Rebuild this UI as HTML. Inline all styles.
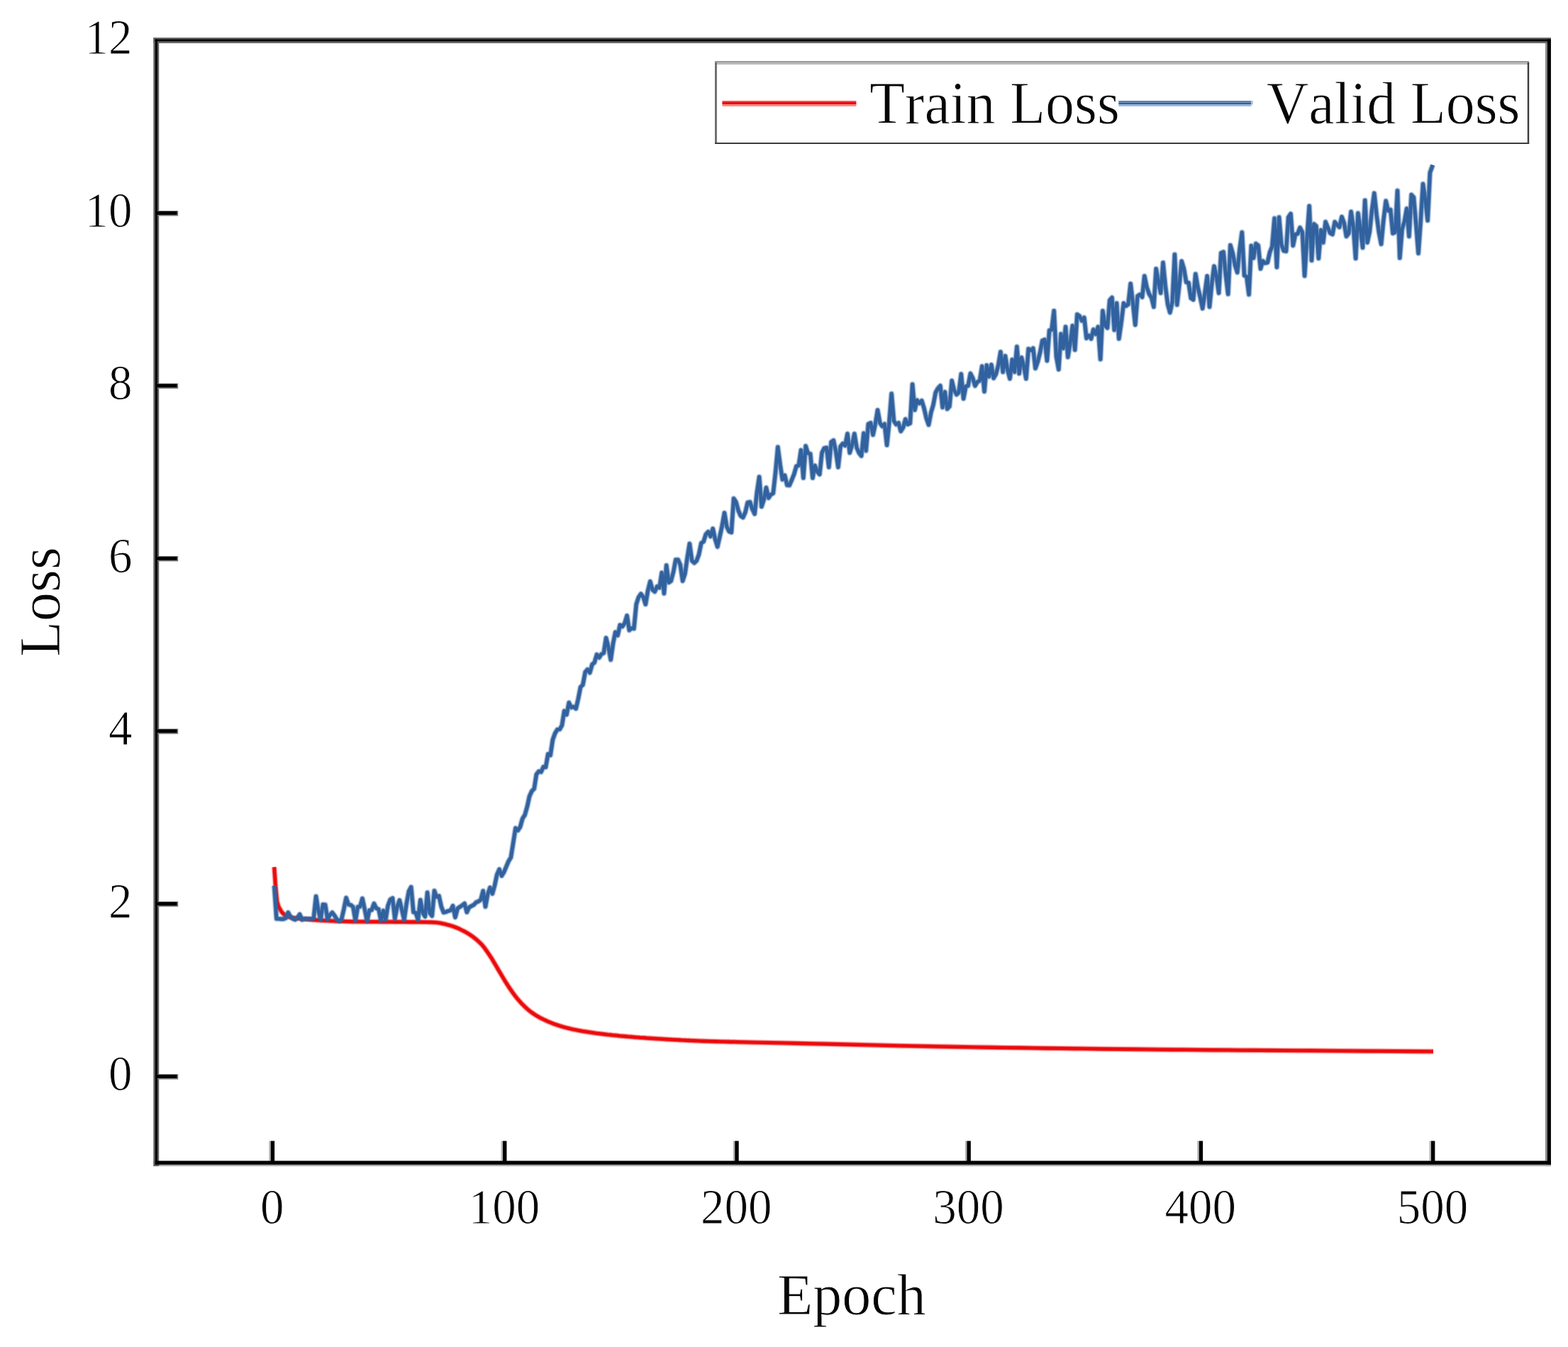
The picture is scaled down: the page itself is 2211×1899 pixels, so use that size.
<!DOCTYPE html>
<html lang="en">
<head>
<meta charset="utf-8">
<title>Train Loss and Valid Loss vs Epoch</title>
<style>
html,body{margin:0;padding:0;background:#fff;}
body{width:2211px;height:1899px;overflow:hidden;}
svg{display:block;}
text{font-family:"Liberation Serif",serif;fill:#050505;font-kerning:none;stroke:#ffffff;stroke-width:0.9px;}
.tk{font-size:67px;}
.lb{font-size:82px;}
</style>
</head>
<body>
<svg width="2211" height="1899" viewBox="0 0 2211 1899">
<rect x="0" y="0" width="2211" height="1899" fill="#ffffff"/>
<g id="axes" shape-rendering="geometricPrecision">
<rect x="2179.0" y="53.0" width="7.9" height="1591.1" fill="#8c8c8c"/>
<rect x="216.4" y="1636.6" width="1970.5" height="7.5" fill="#a8a8a8"/>
<rect x="216.4" y="53.0" width="7.8" height="1591.1" fill="#5c5c5c"/>
<rect x="216.4" y="53.0" width="1970.5" height="7.9" fill="#646464"/>
<rect x="221.0" y="1514.3" width="30.2" height="7.4" fill="#7a7a7a"/>
<rect x="221.0" y="1270.9" width="30.2" height="7.4" fill="#7a7a7a"/>
<rect x="221.0" y="1027.4" width="30.2" height="7.4" fill="#7a7a7a"/>
<rect x="221.0" y="784.0" width="30.2" height="7.4" fill="#7a7a7a"/>
<rect x="221.0" y="540.5" width="30.2" height="7.4" fill="#7a7a7a"/>
<rect x="221.0" y="297.1" width="30.2" height="7.4" fill="#7a7a7a"/>
<rect x="379.3" y="1608.4" width="7.8" height="31.6" fill="#b4b4b4"/>
<rect x="706.6" y="1608.4" width="7.8" height="31.6" fill="#b4b4b4"/>
<rect x="1033.8" y="1608.4" width="7.8" height="31.6" fill="#b4b4b4"/>
<rect x="1361.0" y="1608.4" width="7.8" height="31.6" fill="#b4b4b4"/>
<rect x="1688.3" y="1608.4" width="7.8" height="31.6" fill="#b4b4b4"/>
<rect x="2015.5" y="1608.4" width="7.8" height="31.6" fill="#b4b4b4"/>
<rect x="218.9" y="55.4" width="3.0" height="1586.3" fill="#000000"/>
<rect x="218.4" y="55.4" width="1968.5" height="2.8" fill="#000000"/>
<rect x="2181.9" y="55.4" width="5.0" height="1586.4" fill="#000000"/>
<rect x="218.8" y="1636.6" width="1968.1" height="5.2" fill="#000000"/>
<rect x="221.0" y="1515.1" width="28.6" height="4.9" fill="#000000"/>
<rect x="221.0" y="1271.7" width="28.6" height="4.9" fill="#000000"/>
<rect x="221.0" y="1028.2" width="28.6" height="4.9" fill="#000000"/>
<rect x="221.0" y="784.8" width="28.6" height="4.9" fill="#000000"/>
<rect x="221.0" y="541.3" width="28.6" height="4.9" fill="#000000"/>
<rect x="221.0" y="297.9" width="28.6" height="4.9" fill="#000000"/>
<rect x="381.8" y="1608.6" width="5.3" height="31.4" fill="#000000"/>
<rect x="709.1" y="1608.6" width="5.3" height="31.4" fill="#000000"/>
<rect x="1036.3" y="1608.6" width="5.3" height="31.4" fill="#000000"/>
<rect x="1363.5" y="1608.6" width="5.3" height="31.4" fill="#000000"/>
<rect x="1690.8" y="1608.6" width="5.3" height="31.4" fill="#000000"/>
<rect x="2018.0" y="1608.6" width="5.3" height="31.4" fill="#000000"/>
</g>
<g id="curves">
<polyline fill="none" stroke="#ec0a0c" stroke-width="8.2" stroke-opacity="0.25" stroke-linejoin="round" stroke-linecap="butt" points="
386.7,1222.5 388.4,1247.6 390.6,1270.5 393.0,1278.6 397.4,1286.0 401.7,1290.3 405.0,1291.8 408.3,1292.8 411.5,1293.5 414.8,1294.1 418.1,1294.5 421.4,1294.9
424.6,1295.3 427.9,1295.6 431.2,1295.9 434.4,1296.2 437.7,1296.5 441.0,1296.8 444.3,1297.0 447.5,1297.2 450.8,1297.4 454.1,1297.6 457.4,1297.8 460.6,1297.9
463.9,1298.1 467.2,1298.3 470.4,1298.4 473.7,1298.6 477.0,1298.7 480.3,1298.8 483.5,1298.9 486.8,1299.0 490.1,1299.1 493.4,1299.2 496.6,1299.3 499.9,1299.3
503.2,1299.3 506.4,1299.4 509.7,1299.4 513.0,1299.4 516.3,1299.4 519.5,1299.5 522.8,1299.5 526.1,1299.5 529.4,1299.5 532.6,1299.5 535.9,1299.6 539.2,1299.6
542.4,1299.6 545.7,1299.6 549.0,1299.6 552.3,1299.6 555.5,1299.7 558.8,1299.7 562.1,1299.7 565.4,1299.7 568.6,1299.7 571.9,1299.7 575.2,1299.8 578.4,1299.8
581.7,1299.8 585.0,1299.8 588.3,1299.9 591.5,1299.9 594.8,1299.9 598.1,1300.0 601.4,1300.0 604.6,1300.1 607.9,1300.2 611.2,1300.3 614.4,1300.5 617.7,1300.9
621.0,1301.4 624.3,1302.1 627.5,1302.8 630.8,1303.7 634.1,1304.5 637.4,1305.5 640.6,1306.6 643.9,1307.9 647.2,1309.3 650.4,1310.9 653.7,1312.5 657.0,1314.3
660.2,1316.2 663.5,1318.3 666.8,1320.6 670.1,1323.2 673.3,1325.9 676.6,1329.0 679.9,1332.3 683.2,1336.4 686.4,1340.9 689.7,1345.7 693.0,1350.7 696.2,1356.1
699.5,1361.7 702.8,1367.4 706.1,1372.8 709.3,1378.3 712.6,1383.8 715.9,1389.0 719.2,1393.9 722.4,1398.6 725.7,1403.1 729.0,1407.3 732.2,1411.1 735.5,1414.7
738.8,1418.0 742.1,1421.2 745.3,1424.0 748.6,1426.6 751.9,1428.9 755.2,1431.1 758.4,1433.0 761.7,1434.9 765.0,1436.5 768.2,1438.1 771.5,1439.6 774.8,1441.0
778.1,1442.3 781.3,1443.6 784.6,1444.7 787.9,1445.8 791.1,1446.8 794.4,1447.8 797.7,1448.7 801.0,1449.5 804.2,1450.3 807.5,1451.1 810.8,1451.7 814.1,1452.4
817.3,1453.0 820.6,1453.6 823.9,1454.1 827.1,1454.6 830.4,1455.1 833.7,1455.6 837.0,1456.1 840.2,1456.6 843.5,1457.0 846.8,1457.4 850.1,1457.8 853.3,1458.2
856.6,1458.6 859.9,1458.9 863.1,1459.3 866.4,1459.6 869.7,1459.9 873.0,1460.3 876.2,1460.6 879.5,1460.9 882.8,1461.2 886.1,1461.5 889.3,1461.7 892.6,1462.0
895.9,1462.3 899.1,1462.5 902.4,1462.8 905.7,1463.0 909.0,1463.2 912.2,1463.5 915.5,1463.7 918.8,1463.9 922.0,1464.1 925.3,1464.3 928.6,1464.5 931.9,1464.7
935.1,1464.9 938.4,1465.1 941.7,1465.3 945.0,1465.5 948.2,1465.7 951.5,1465.8 954.8,1466.0 958.0,1466.2 961.3,1466.4 964.6,1466.5 967.9,1466.7 971.1,1466.8
974.4,1467.0 977.7,1467.1 981.0,1467.3 984.2,1467.4 987.5,1467.6 990.8,1467.7 994.0,1467.8 997.3,1467.9 1000.6,1468.0 1003.9,1468.1 1007.1,1468.2 1010.4,1468.3
1013.7,1468.4 1017.0,1468.5 1020.2,1468.5 1023.5,1468.6 1026.8,1468.7 1030.0,1468.8 1033.3,1468.8 1036.6,1468.9 1039.9,1469.0 1043.1,1469.1 1045.0,1469.1 1064.6,1469.6
1084.2,1470.0 1103.8,1470.4 1123.4,1470.8 1143.0,1471.3 1162.6,1471.7 1182.2,1472.2 1201.8,1472.7 1221.4,1473.1 1241.0,1473.6 1260.6,1474.1 1280.2,1474.5 1299.8,1474.9
1319.4,1475.3 1339.0,1475.7 1358.6,1476.0 1378.2,1476.4 1397.8,1476.7 1417.4,1477.0 1437.0,1477.2 1456.6,1477.5 1476.2,1477.8 1495.8,1478.0 1515.4,1478.3 1535.0,1478.5
1554.6,1478.8 1574.2,1479.0 1593.8,1479.2 1613.4,1479.4 1633.0,1479.6 1652.6,1479.8 1672.2,1479.9 1691.8,1480.1 1711.4,1480.3 1731.0,1480.4 1750.6,1480.6 1770.2,1480.7
1789.8,1480.8 1809.4,1481.0 1829.0,1481.1 1848.6,1481.2 1868.2,1481.4 1887.8,1481.5 1907.4,1481.6 1927.0,1481.8 1946.6,1481.9 1966.2,1482.0 1985.8,1482.2 2005.4,1482.3
2021.0,1482.4"/>
<polyline fill="none" stroke="#ec0a0c" stroke-width="6.2" stroke-opacity="0.5" stroke-linejoin="round" stroke-linecap="butt" points="
386.7,1222.5 388.4,1247.6 390.6,1270.5 393.0,1278.6 397.4,1286.0 401.7,1290.3 405.0,1291.8 408.3,1292.8 411.5,1293.5 414.8,1294.1 418.1,1294.5 421.4,1294.9
424.6,1295.3 427.9,1295.6 431.2,1295.9 434.4,1296.2 437.7,1296.5 441.0,1296.8 444.3,1297.0 447.5,1297.2 450.8,1297.4 454.1,1297.6 457.4,1297.8 460.6,1297.9
463.9,1298.1 467.2,1298.3 470.4,1298.4 473.7,1298.6 477.0,1298.7 480.3,1298.8 483.5,1298.9 486.8,1299.0 490.1,1299.1 493.4,1299.2 496.6,1299.3 499.9,1299.3
503.2,1299.3 506.4,1299.4 509.7,1299.4 513.0,1299.4 516.3,1299.4 519.5,1299.5 522.8,1299.5 526.1,1299.5 529.4,1299.5 532.6,1299.5 535.9,1299.6 539.2,1299.6
542.4,1299.6 545.7,1299.6 549.0,1299.6 552.3,1299.6 555.5,1299.7 558.8,1299.7 562.1,1299.7 565.4,1299.7 568.6,1299.7 571.9,1299.7 575.2,1299.8 578.4,1299.8
581.7,1299.8 585.0,1299.8 588.3,1299.9 591.5,1299.9 594.8,1299.9 598.1,1300.0 601.4,1300.0 604.6,1300.1 607.9,1300.2 611.2,1300.3 614.4,1300.5 617.7,1300.9
621.0,1301.4 624.3,1302.1 627.5,1302.8 630.8,1303.7 634.1,1304.5 637.4,1305.5 640.6,1306.6 643.9,1307.9 647.2,1309.3 650.4,1310.9 653.7,1312.5 657.0,1314.3
660.2,1316.2 663.5,1318.3 666.8,1320.6 670.1,1323.2 673.3,1325.9 676.6,1329.0 679.9,1332.3 683.2,1336.4 686.4,1340.9 689.7,1345.7 693.0,1350.7 696.2,1356.1
699.5,1361.7 702.8,1367.4 706.1,1372.8 709.3,1378.3 712.6,1383.8 715.9,1389.0 719.2,1393.9 722.4,1398.6 725.7,1403.1 729.0,1407.3 732.2,1411.1 735.5,1414.7
738.8,1418.0 742.1,1421.2 745.3,1424.0 748.6,1426.6 751.9,1428.9 755.2,1431.1 758.4,1433.0 761.7,1434.9 765.0,1436.5 768.2,1438.1 771.5,1439.6 774.8,1441.0
778.1,1442.3 781.3,1443.6 784.6,1444.7 787.9,1445.8 791.1,1446.8 794.4,1447.8 797.7,1448.7 801.0,1449.5 804.2,1450.3 807.5,1451.1 810.8,1451.7 814.1,1452.4
817.3,1453.0 820.6,1453.6 823.9,1454.1 827.1,1454.6 830.4,1455.1 833.7,1455.6 837.0,1456.1 840.2,1456.6 843.5,1457.0 846.8,1457.4 850.1,1457.8 853.3,1458.2
856.6,1458.6 859.9,1458.9 863.1,1459.3 866.4,1459.6 869.7,1459.9 873.0,1460.3 876.2,1460.6 879.5,1460.9 882.8,1461.2 886.1,1461.5 889.3,1461.7 892.6,1462.0
895.9,1462.3 899.1,1462.5 902.4,1462.8 905.7,1463.0 909.0,1463.2 912.2,1463.5 915.5,1463.7 918.8,1463.9 922.0,1464.1 925.3,1464.3 928.6,1464.5 931.9,1464.7
935.1,1464.9 938.4,1465.1 941.7,1465.3 945.0,1465.5 948.2,1465.7 951.5,1465.8 954.8,1466.0 958.0,1466.2 961.3,1466.4 964.6,1466.5 967.9,1466.7 971.1,1466.8
974.4,1467.0 977.7,1467.1 981.0,1467.3 984.2,1467.4 987.5,1467.6 990.8,1467.7 994.0,1467.8 997.3,1467.9 1000.6,1468.0 1003.9,1468.1 1007.1,1468.2 1010.4,1468.3
1013.7,1468.4 1017.0,1468.5 1020.2,1468.5 1023.5,1468.6 1026.8,1468.7 1030.0,1468.8 1033.3,1468.8 1036.6,1468.9 1039.9,1469.0 1043.1,1469.1 1045.0,1469.1 1064.6,1469.6
1084.2,1470.0 1103.8,1470.4 1123.4,1470.8 1143.0,1471.3 1162.6,1471.7 1182.2,1472.2 1201.8,1472.7 1221.4,1473.1 1241.0,1473.6 1260.6,1474.1 1280.2,1474.5 1299.8,1474.9
1319.4,1475.3 1339.0,1475.7 1358.6,1476.0 1378.2,1476.4 1397.8,1476.7 1417.4,1477.0 1437.0,1477.2 1456.6,1477.5 1476.2,1477.8 1495.8,1478.0 1515.4,1478.3 1535.0,1478.5
1554.6,1478.8 1574.2,1479.0 1593.8,1479.2 1613.4,1479.4 1633.0,1479.6 1652.6,1479.8 1672.2,1479.9 1691.8,1480.1 1711.4,1480.3 1731.0,1480.4 1750.6,1480.6 1770.2,1480.7
1789.8,1480.8 1809.4,1481.0 1829.0,1481.1 1848.6,1481.2 1868.2,1481.4 1887.8,1481.5 1907.4,1481.6 1927.0,1481.8 1946.6,1481.9 1966.2,1482.0 1985.8,1482.2 2005.4,1482.3
2021.0,1482.4"/>
<polyline fill="none" stroke="#ec0a0c" stroke-width="4.4" stroke-linejoin="round" stroke-linecap="butt" points="
386.7,1222.5 388.4,1247.6 390.6,1270.5 393.0,1278.6 397.4,1286.0 401.7,1290.3 405.0,1291.8 408.3,1292.8 411.5,1293.5 414.8,1294.1 418.1,1294.5 421.4,1294.9
424.6,1295.3 427.9,1295.6 431.2,1295.9 434.4,1296.2 437.7,1296.5 441.0,1296.8 444.3,1297.0 447.5,1297.2 450.8,1297.4 454.1,1297.6 457.4,1297.8 460.6,1297.9
463.9,1298.1 467.2,1298.3 470.4,1298.4 473.7,1298.6 477.0,1298.7 480.3,1298.8 483.5,1298.9 486.8,1299.0 490.1,1299.1 493.4,1299.2 496.6,1299.3 499.9,1299.3
503.2,1299.3 506.4,1299.4 509.7,1299.4 513.0,1299.4 516.3,1299.4 519.5,1299.5 522.8,1299.5 526.1,1299.5 529.4,1299.5 532.6,1299.5 535.9,1299.6 539.2,1299.6
542.4,1299.6 545.7,1299.6 549.0,1299.6 552.3,1299.6 555.5,1299.7 558.8,1299.7 562.1,1299.7 565.4,1299.7 568.6,1299.7 571.9,1299.7 575.2,1299.8 578.4,1299.8
581.7,1299.8 585.0,1299.8 588.3,1299.9 591.5,1299.9 594.8,1299.9 598.1,1300.0 601.4,1300.0 604.6,1300.1 607.9,1300.2 611.2,1300.3 614.4,1300.5 617.7,1300.9
621.0,1301.4 624.3,1302.1 627.5,1302.8 630.8,1303.7 634.1,1304.5 637.4,1305.5 640.6,1306.6 643.9,1307.9 647.2,1309.3 650.4,1310.9 653.7,1312.5 657.0,1314.3
660.2,1316.2 663.5,1318.3 666.8,1320.6 670.1,1323.2 673.3,1325.9 676.6,1329.0 679.9,1332.3 683.2,1336.4 686.4,1340.9 689.7,1345.7 693.0,1350.7 696.2,1356.1
699.5,1361.7 702.8,1367.4 706.1,1372.8 709.3,1378.3 712.6,1383.8 715.9,1389.0 719.2,1393.9 722.4,1398.6 725.7,1403.1 729.0,1407.3 732.2,1411.1 735.5,1414.7
738.8,1418.0 742.1,1421.2 745.3,1424.0 748.6,1426.6 751.9,1428.9 755.2,1431.1 758.4,1433.0 761.7,1434.9 765.0,1436.5 768.2,1438.1 771.5,1439.6 774.8,1441.0
778.1,1442.3 781.3,1443.6 784.6,1444.7 787.9,1445.8 791.1,1446.8 794.4,1447.8 797.7,1448.7 801.0,1449.5 804.2,1450.3 807.5,1451.1 810.8,1451.7 814.1,1452.4
817.3,1453.0 820.6,1453.6 823.9,1454.1 827.1,1454.6 830.4,1455.1 833.7,1455.6 837.0,1456.1 840.2,1456.6 843.5,1457.0 846.8,1457.4 850.1,1457.8 853.3,1458.2
856.6,1458.6 859.9,1458.9 863.1,1459.3 866.4,1459.6 869.7,1459.9 873.0,1460.3 876.2,1460.6 879.5,1460.9 882.8,1461.2 886.1,1461.5 889.3,1461.7 892.6,1462.0
895.9,1462.3 899.1,1462.5 902.4,1462.8 905.7,1463.0 909.0,1463.2 912.2,1463.5 915.5,1463.7 918.8,1463.9 922.0,1464.1 925.3,1464.3 928.6,1464.5 931.9,1464.7
935.1,1464.9 938.4,1465.1 941.7,1465.3 945.0,1465.5 948.2,1465.7 951.5,1465.8 954.8,1466.0 958.0,1466.2 961.3,1466.4 964.6,1466.5 967.9,1466.7 971.1,1466.8
974.4,1467.0 977.7,1467.1 981.0,1467.3 984.2,1467.4 987.5,1467.6 990.8,1467.7 994.0,1467.8 997.3,1467.9 1000.6,1468.0 1003.9,1468.1 1007.1,1468.2 1010.4,1468.3
1013.7,1468.4 1017.0,1468.5 1020.2,1468.5 1023.5,1468.6 1026.8,1468.7 1030.0,1468.8 1033.3,1468.8 1036.6,1468.9 1039.9,1469.0 1043.1,1469.1 1045.0,1469.1 1064.6,1469.6
1084.2,1470.0 1103.8,1470.4 1123.4,1470.8 1143.0,1471.3 1162.6,1471.7 1182.2,1472.2 1201.8,1472.7 1221.4,1473.1 1241.0,1473.6 1260.6,1474.1 1280.2,1474.5 1299.8,1474.9
1319.4,1475.3 1339.0,1475.7 1358.6,1476.0 1378.2,1476.4 1397.8,1476.7 1417.4,1477.0 1437.0,1477.2 1456.6,1477.5 1476.2,1477.8 1495.8,1478.0 1515.4,1478.3 1535.0,1478.5
1554.6,1478.8 1574.2,1479.0 1593.8,1479.2 1613.4,1479.4 1633.0,1479.6 1652.6,1479.8 1672.2,1479.9 1691.8,1480.1 1711.4,1480.3 1731.0,1480.4 1750.6,1480.6 1770.2,1480.7
1789.8,1480.8 1809.4,1481.0 1829.0,1481.1 1848.6,1481.2 1868.2,1481.4 1887.8,1481.5 1907.4,1481.6 1927.0,1481.8 1946.6,1481.9 1966.2,1482.0 1985.8,1482.2 2005.4,1482.3
2021.0,1482.4"/>
<polyline fill="none" stroke="#31629f" stroke-width="8.6" stroke-opacity="0.25" stroke-linejoin="round" stroke-linecap="butt" points="
386.7,1248.7 389.9,1295.2 393.2,1295.3 396.5,1295.6 399.7,1295.6 403.0,1294.3 406.3,1286.5 409.6,1292.5 412.8,1295.2 416.1,1296.5 419.4,1293.9 422.6,1289.1
425.9,1296.5 429.2,1295.3 432.5,1295.3 435.7,1295.3 439.0,1295.3 442.3,1294.3 445.6,1263.7 448.8,1283.0 452.1,1296.5 455.4,1275.2 458.6,1275.6 461.9,1296.0
465.2,1289.9 468.5,1286.5 471.7,1290.8 475.0,1296.0 478.3,1298.6 481.6,1296.0 484.8,1282.1 488.1,1265.8 491.4,1275.2 494.6,1275.9 497.9,1278.6 501.2,1297.8
504.5,1278.6 507.7,1278.2 511.0,1266.7 514.3,1282.1 517.6,1298.6 520.8,1283.4 524.1,1283.0 527.4,1273.9 530.6,1280.4 533.9,1281.7 537.2,1297.8 540.5,1283.9
543.7,1296.9 547.0,1276.9 550.3,1268.2 553.5,1266.3 556.8,1295.0 560.1,1278.2 563.4,1269.2 566.6,1282.5 569.9,1296.7 573.2,1273.8 576.5,1256.5 579.7,1250.6
583.0,1286.0 586.3,1286.9 589.5,1296.7 592.8,1268.8 596.1,1286.9 599.4,1292.1 602.6,1258.4 605.9,1286.9 609.2,1291.2 612.5,1255.8 615.7,1264.3 619.0,1263.2
622.3,1278.2 625.5,1286.4 628.8,1285.6 632.1,1284.3 635.4,1283.4 638.6,1277.1 641.9,1293.2 645.2,1280.8 648.5,1278.6 651.7,1276.4 655.0,1273.8 658.3,1286.0
661.5,1279.1 664.8,1277.3 668.1,1275.6 671.4,1272.1 674.6,1270.8 677.9,1268.6 681.2,1256.0 684.5,1278.2 687.7,1260.8 691.0,1251.3 694.3,1259.9 697.5,1248.6
700.8,1233.0 704.1,1225.6 707.4,1234.7 710.6,1229.5 713.9,1221.7 717.2,1213.9 720.4,1208.7 727.0,1167.5 730.3,1170.7 733.5,1165.8 736.8,1154.0 740.1,1148.9
743.4,1137.2 746.6,1122.5 749.9,1115.3 753.2,1111.9 756.4,1091.7 759.7,1087.5 763.0,1088.3 766.3,1081.0 769.5,1081.6 772.8,1063.0 776.1,1064.7 779.4,1042.8
782.6,1034.0 785.9,1028.5 789.2,1028.2 792.4,1022.6 795.7,1002.4 799.0,1007.4 802.3,990.6 805.5,997.3 808.8,996.4 812.1,999.0 815.3,985.5 818.6,968.7
821.9,965.3 825.2,947.6 828.4,943.9 831.7,948.4 835.0,936.8 838.3,933.9 841.5,922.8 844.8,927.1 848.1,922.2 851.3,920.6 854.6,899.4 857.9,912.4
861.2,930.1 864.4,907.7 867.7,891.3 871.0,895.7 874.3,881.1 877.5,883.3 880.8,878.7 884.1,868.0 887.3,888.4 890.6,885.6 893.9,886.2 897.2,851.9
900.4,842.1 903.7,837.3 907.0,841.6 910.3,851.9 913.5,833.0 916.8,819.8 920.1,831.5 923.3,834.1 926.6,826.8 929.9,828.5 933.2,807.4 936.4,836.6
939.7,797.1 943.0,821.2 946.2,819.0 949.5,806.5 952.8,789.1 956.1,789.1 959.3,796.4 962.6,819.0 965.9,808.8 969.2,785.9 972.4,766.5 975.7,790.6
979.0,793.5 982.2,790.6 985.5,781.6 988.8,765.7 992.1,763.5 995.3,753.3 998.6,749.7 1001.9,756.2 1005.2,745.3 1008.4,760.0 1011.7,770.8 1015.0,756.2
1018.2,741.5 1021.5,723.0 1024.8,742.6 1028.1,749.2 1031.3,750.5 1034.6,702.8 1037.9,707.9 1041.2,720.1 1044.4,727.2 1047.7,729.5 1051.0,722.1 1054.2,708.5
1057.5,707.8 1060.8,717.8 1064.1,724.5 1067.3,694.4 1070.6,672.3 1073.9,714.3 1077.2,704.3 1080.4,687.5 1083.7,702.0 1087.0,697.1 1090.2,695.5 1093.5,666.2
1096.8,630.4 1100.1,655.4 1103.3,676.0 1106.6,670.2 1109.9,683.9 1113.1,684.2 1116.4,676.7 1119.7,668.5 1123.0,657.1 1126.2,656.4 1129.5,634.7 1132.8,673.8
1136.1,628.9 1139.3,639.0 1142.6,639.8 1145.9,673.8 1149.1,656.4 1152.4,665.0 1155.7,668.7 1159.0,638.3 1162.2,631.9 1165.5,631.1 1168.8,658.6 1172.1,623.1
1175.3,620.9 1178.6,636.2 1181.9,658.6 1185.1,629.6 1188.4,625.4 1191.7,628.2 1195.0,611.5 1198.2,638.3 1201.5,627.5 1204.8,611.5 1208.0,631.1 1211.3,638.6
1214.6,642.7 1217.9,610.8 1221.1,635.4 1224.4,597.8 1227.7,596.3 1231.0,613.0 1234.2,598.2 1237.5,578.2 1240.8,596.3 1244.0,600.9 1247.3,597.8 1250.6,627.5
1253.9,595.1 1257.1,555.1 1260.4,593.4 1263.7,598.3 1267.0,596.3 1270.2,607.9 1273.5,602.8 1276.8,591.0 1280.0,598.2 1283.3,596.8 1286.6,541.8 1289.9,578.0
1293.1,564.2 1296.4,568.6 1299.7,564.9 1303.0,575.5 1306.2,589.5 1309.5,598.9 1312.8,581.6 1316.0,570.7 1319.3,553.3 1322.6,547.5 1325.9,543.9 1329.1,574.3
1332.4,552.6 1335.7,576.5 1338.9,572.9 1342.2,536.7 1345.5,550.2 1348.8,556.2 1352.0,553.3 1355.3,527.3 1358.6,562.0 1361.9,544.7 1365.1,543.9 1368.4,526.6
1371.7,533.0 1374.9,543.9 1378.2,538.4 1381.5,536.7 1384.8,516.4 1388.0,551.9 1391.3,515.0 1394.6,530.9 1397.9,514.2 1401.1,533.1 1404.4,527.3 1407.7,514.9
1410.9,496.1 1414.2,524.4 1417.5,501.9 1420.8,521.9 1424.0,533.8 1427.3,507.0 1430.6,524.4 1433.9,488.9 1437.1,526.6 1440.4,504.1 1443.7,516.2 1446.9,533.8
1450.2,491.8 1453.5,494.0 1456.8,491.1 1460.0,519.3 1463.3,509.9 1466.6,496.8 1469.8,480.2 1473.1,478.8 1476.4,508.5 1479.7,465.7 1482.9,465.0 1486.2,438.2
1489.5,502.7 1492.8,520.8 1496.0,470.8 1499.3,491.1 1502.6,460.7 1505.8,503.4 1509.1,483.0 1512.4,459.2 1515.7,493.3 1518.9,443.3 1522.2,445.6 1525.5,452.2
1528.8,447.8 1532.0,476.8 1535.3,473.0 1538.6,477.5 1541.8,464.5 1545.1,471.0 1548.4,460.8 1551.7,506.5 1554.9,438.4 1558.2,458.7 1561.5,462.3 1564.8,423.2
1568.0,419.6 1571.3,465.2 1574.6,427.5 1577.8,477.5 1581.1,454.5 1584.4,427.5 1587.7,431.4 1590.9,429.0 1594.2,400.0 1597.5,427.5 1600.8,458.0 1604.0,417.4
1607.3,415.2 1610.6,418.9 1613.8,389.2 1617.1,405.0 1620.4,414.5 1623.7,419.7 1626.9,432.6 1630.2,379.0 1633.5,398.0 1636.7,413.1 1640.0,370.4 1643.3,403.8
1646.6,429.0 1649.8,440.6 1653.1,425.4 1656.4,358.8 1659.7,429.7 1662.9,401.7 1666.2,368.2 1669.5,379.2 1672.7,397.9 1676.0,398.6 1679.3,420.3 1682.6,422.5
1685.8,386.3 1689.1,405.4 1692.4,418.9 1695.7,434.8 1698.9,413.7 1702.2,389.2 1705.5,432.6 1708.7,400.5 1712.0,375.4 1715.3,389.9 1718.6,413.1 1721.8,356.6
1725.1,355.2 1728.4,387.6 1731.7,414.5 1734.9,345.7 1738.2,357.0 1741.5,374.0 1744.7,384.1 1748.0,351.8 1751.3,327.6 1754.6,388.5 1757.8,389.9 1761.1,415.2
1764.4,346.5 1767.6,363.8 1770.9,343.6 1774.2,346.2 1777.5,378.8 1780.7,368.0 1784.0,370.9 1787.3,370.1 1790.6,355.4 1793.8,347.7 1797.1,307.9 1800.4,376.6
1803.6,306.4 1806.9,344.8 1810.2,353.6 1813.5,354.2 1816.7,306.4 1820.0,301.4 1823.3,346.2 1826.6,330.3 1829.8,329.6 1833.1,320.9 1836.4,327.4 1839.6,388.9
1842.9,336.3 1846.2,290.5 1849.5,367.2 1852.7,315.8 1856.0,318.7 1859.3,364.3 1862.6,324.5 1865.8,341.9 1869.1,312.9 1872.4,320.9 1875.6,328.5 1878.9,330.3
1882.2,312.9 1885.5,317.3 1888.7,320.2 1892.0,305.7 1895.3,314.4 1898.5,333.2 1901.8,328.9 1905.1,298.5 1908.4,320.2 1911.6,364.3 1914.9,300.6 1918.2,322.4
1921.5,349.1 1924.7,282.5 1928.0,341.9 1931.3,326.7 1934.5,296.6 1937.8,272.4 1941.1,303.1 1944.4,327.4 1947.6,344.1 1950.9,310.0 1954.2,283.3 1957.5,297.0
1960.7,295.6 1964.0,328.9 1967.3,327.4 1970.5,268.8 1973.8,363.6 1977.1,323.1 1980.4,312.1 1983.6,294.1 1986.9,333.2 1990.2,274.6 1993.4,278.2 1996.7,315.6
2000.0,357.1 2003.3,310.7 2006.5,259.4 2009.8,281.1 2013.1,310.8 2016.4,243.4 2020.3,232.6"/>
<polyline fill="none" stroke="#31629f" stroke-width="6.6" stroke-opacity="0.5" stroke-linejoin="round" stroke-linecap="butt" points="
386.7,1248.7 389.9,1295.2 393.2,1295.3 396.5,1295.6 399.7,1295.6 403.0,1294.3 406.3,1286.5 409.6,1292.5 412.8,1295.2 416.1,1296.5 419.4,1293.9 422.6,1289.1
425.9,1296.5 429.2,1295.3 432.5,1295.3 435.7,1295.3 439.0,1295.3 442.3,1294.3 445.6,1263.7 448.8,1283.0 452.1,1296.5 455.4,1275.2 458.6,1275.6 461.9,1296.0
465.2,1289.9 468.5,1286.5 471.7,1290.8 475.0,1296.0 478.3,1298.6 481.6,1296.0 484.8,1282.1 488.1,1265.8 491.4,1275.2 494.6,1275.9 497.9,1278.6 501.2,1297.8
504.5,1278.6 507.7,1278.2 511.0,1266.7 514.3,1282.1 517.6,1298.6 520.8,1283.4 524.1,1283.0 527.4,1273.9 530.6,1280.4 533.9,1281.7 537.2,1297.8 540.5,1283.9
543.7,1296.9 547.0,1276.9 550.3,1268.2 553.5,1266.3 556.8,1295.0 560.1,1278.2 563.4,1269.2 566.6,1282.5 569.9,1296.7 573.2,1273.8 576.5,1256.5 579.7,1250.6
583.0,1286.0 586.3,1286.9 589.5,1296.7 592.8,1268.8 596.1,1286.9 599.4,1292.1 602.6,1258.4 605.9,1286.9 609.2,1291.2 612.5,1255.8 615.7,1264.3 619.0,1263.2
622.3,1278.2 625.5,1286.4 628.8,1285.6 632.1,1284.3 635.4,1283.4 638.6,1277.1 641.9,1293.2 645.2,1280.8 648.5,1278.6 651.7,1276.4 655.0,1273.8 658.3,1286.0
661.5,1279.1 664.8,1277.3 668.1,1275.6 671.4,1272.1 674.6,1270.8 677.9,1268.6 681.2,1256.0 684.5,1278.2 687.7,1260.8 691.0,1251.3 694.3,1259.9 697.5,1248.6
700.8,1233.0 704.1,1225.6 707.4,1234.7 710.6,1229.5 713.9,1221.7 717.2,1213.9 720.4,1208.7 727.0,1167.5 730.3,1170.7 733.5,1165.8 736.8,1154.0 740.1,1148.9
743.4,1137.2 746.6,1122.5 749.9,1115.3 753.2,1111.9 756.4,1091.7 759.7,1087.5 763.0,1088.3 766.3,1081.0 769.5,1081.6 772.8,1063.0 776.1,1064.7 779.4,1042.8
782.6,1034.0 785.9,1028.5 789.2,1028.2 792.4,1022.6 795.7,1002.4 799.0,1007.4 802.3,990.6 805.5,997.3 808.8,996.4 812.1,999.0 815.3,985.5 818.6,968.7
821.9,965.3 825.2,947.6 828.4,943.9 831.7,948.4 835.0,936.8 838.3,933.9 841.5,922.8 844.8,927.1 848.1,922.2 851.3,920.6 854.6,899.4 857.9,912.4
861.2,930.1 864.4,907.7 867.7,891.3 871.0,895.7 874.3,881.1 877.5,883.3 880.8,878.7 884.1,868.0 887.3,888.4 890.6,885.6 893.9,886.2 897.2,851.9
900.4,842.1 903.7,837.3 907.0,841.6 910.3,851.9 913.5,833.0 916.8,819.8 920.1,831.5 923.3,834.1 926.6,826.8 929.9,828.5 933.2,807.4 936.4,836.6
939.7,797.1 943.0,821.2 946.2,819.0 949.5,806.5 952.8,789.1 956.1,789.1 959.3,796.4 962.6,819.0 965.9,808.8 969.2,785.9 972.4,766.5 975.7,790.6
979.0,793.5 982.2,790.6 985.5,781.6 988.8,765.7 992.1,763.5 995.3,753.3 998.6,749.7 1001.9,756.2 1005.2,745.3 1008.4,760.0 1011.7,770.8 1015.0,756.2
1018.2,741.5 1021.5,723.0 1024.8,742.6 1028.1,749.2 1031.3,750.5 1034.6,702.8 1037.9,707.9 1041.2,720.1 1044.4,727.2 1047.7,729.5 1051.0,722.1 1054.2,708.5
1057.5,707.8 1060.8,717.8 1064.1,724.5 1067.3,694.4 1070.6,672.3 1073.9,714.3 1077.2,704.3 1080.4,687.5 1083.7,702.0 1087.0,697.1 1090.2,695.5 1093.5,666.2
1096.8,630.4 1100.1,655.4 1103.3,676.0 1106.6,670.2 1109.9,683.9 1113.1,684.2 1116.4,676.7 1119.7,668.5 1123.0,657.1 1126.2,656.4 1129.5,634.7 1132.8,673.8
1136.1,628.9 1139.3,639.0 1142.6,639.8 1145.9,673.8 1149.1,656.4 1152.4,665.0 1155.7,668.7 1159.0,638.3 1162.2,631.9 1165.5,631.1 1168.8,658.6 1172.1,623.1
1175.3,620.9 1178.6,636.2 1181.9,658.6 1185.1,629.6 1188.4,625.4 1191.7,628.2 1195.0,611.5 1198.2,638.3 1201.5,627.5 1204.8,611.5 1208.0,631.1 1211.3,638.6
1214.6,642.7 1217.9,610.8 1221.1,635.4 1224.4,597.8 1227.7,596.3 1231.0,613.0 1234.2,598.2 1237.5,578.2 1240.8,596.3 1244.0,600.9 1247.3,597.8 1250.6,627.5
1253.9,595.1 1257.1,555.1 1260.4,593.4 1263.7,598.3 1267.0,596.3 1270.2,607.9 1273.5,602.8 1276.8,591.0 1280.0,598.2 1283.3,596.8 1286.6,541.8 1289.9,578.0
1293.1,564.2 1296.4,568.6 1299.7,564.9 1303.0,575.5 1306.2,589.5 1309.5,598.9 1312.8,581.6 1316.0,570.7 1319.3,553.3 1322.6,547.5 1325.9,543.9 1329.1,574.3
1332.4,552.6 1335.7,576.5 1338.9,572.9 1342.2,536.7 1345.5,550.2 1348.8,556.2 1352.0,553.3 1355.3,527.3 1358.6,562.0 1361.9,544.7 1365.1,543.9 1368.4,526.6
1371.7,533.0 1374.9,543.9 1378.2,538.4 1381.5,536.7 1384.8,516.4 1388.0,551.9 1391.3,515.0 1394.6,530.9 1397.9,514.2 1401.1,533.1 1404.4,527.3 1407.7,514.9
1410.9,496.1 1414.2,524.4 1417.5,501.9 1420.8,521.9 1424.0,533.8 1427.3,507.0 1430.6,524.4 1433.9,488.9 1437.1,526.6 1440.4,504.1 1443.7,516.2 1446.9,533.8
1450.2,491.8 1453.5,494.0 1456.8,491.1 1460.0,519.3 1463.3,509.9 1466.6,496.8 1469.8,480.2 1473.1,478.8 1476.4,508.5 1479.7,465.7 1482.9,465.0 1486.2,438.2
1489.5,502.7 1492.8,520.8 1496.0,470.8 1499.3,491.1 1502.6,460.7 1505.8,503.4 1509.1,483.0 1512.4,459.2 1515.7,493.3 1518.9,443.3 1522.2,445.6 1525.5,452.2
1528.8,447.8 1532.0,476.8 1535.3,473.0 1538.6,477.5 1541.8,464.5 1545.1,471.0 1548.4,460.8 1551.7,506.5 1554.9,438.4 1558.2,458.7 1561.5,462.3 1564.8,423.2
1568.0,419.6 1571.3,465.2 1574.6,427.5 1577.8,477.5 1581.1,454.5 1584.4,427.5 1587.7,431.4 1590.9,429.0 1594.2,400.0 1597.5,427.5 1600.8,458.0 1604.0,417.4
1607.3,415.2 1610.6,418.9 1613.8,389.2 1617.1,405.0 1620.4,414.5 1623.7,419.7 1626.9,432.6 1630.2,379.0 1633.5,398.0 1636.7,413.1 1640.0,370.4 1643.3,403.8
1646.6,429.0 1649.8,440.6 1653.1,425.4 1656.4,358.8 1659.7,429.7 1662.9,401.7 1666.2,368.2 1669.5,379.2 1672.7,397.9 1676.0,398.6 1679.3,420.3 1682.6,422.5
1685.8,386.3 1689.1,405.4 1692.4,418.9 1695.7,434.8 1698.9,413.7 1702.2,389.2 1705.5,432.6 1708.7,400.5 1712.0,375.4 1715.3,389.9 1718.6,413.1 1721.8,356.6
1725.1,355.2 1728.4,387.6 1731.7,414.5 1734.9,345.7 1738.2,357.0 1741.5,374.0 1744.7,384.1 1748.0,351.8 1751.3,327.6 1754.6,388.5 1757.8,389.9 1761.1,415.2
1764.4,346.5 1767.6,363.8 1770.9,343.6 1774.2,346.2 1777.5,378.8 1780.7,368.0 1784.0,370.9 1787.3,370.1 1790.6,355.4 1793.8,347.7 1797.1,307.9 1800.4,376.6
1803.6,306.4 1806.9,344.8 1810.2,353.6 1813.5,354.2 1816.7,306.4 1820.0,301.4 1823.3,346.2 1826.6,330.3 1829.8,329.6 1833.1,320.9 1836.4,327.4 1839.6,388.9
1842.9,336.3 1846.2,290.5 1849.5,367.2 1852.7,315.8 1856.0,318.7 1859.3,364.3 1862.6,324.5 1865.8,341.9 1869.1,312.9 1872.4,320.9 1875.6,328.5 1878.9,330.3
1882.2,312.9 1885.5,317.3 1888.7,320.2 1892.0,305.7 1895.3,314.4 1898.5,333.2 1901.8,328.9 1905.1,298.5 1908.4,320.2 1911.6,364.3 1914.9,300.6 1918.2,322.4
1921.5,349.1 1924.7,282.5 1928.0,341.9 1931.3,326.7 1934.5,296.6 1937.8,272.4 1941.1,303.1 1944.4,327.4 1947.6,344.1 1950.9,310.0 1954.2,283.3 1957.5,297.0
1960.7,295.6 1964.0,328.9 1967.3,327.4 1970.5,268.8 1973.8,363.6 1977.1,323.1 1980.4,312.1 1983.6,294.1 1986.9,333.2 1990.2,274.6 1993.4,278.2 1996.7,315.6
2000.0,357.1 2003.3,310.7 2006.5,259.4 2009.8,281.1 2013.1,310.8 2016.4,243.4 2020.3,232.6"/>
<polyline fill="none" stroke="#31629f" stroke-width="4.8" stroke-linejoin="round" stroke-linecap="butt" points="
386.7,1248.7 389.9,1295.2 393.2,1295.3 396.5,1295.6 399.7,1295.6 403.0,1294.3 406.3,1286.5 409.6,1292.5 412.8,1295.2 416.1,1296.5 419.4,1293.9 422.6,1289.1
425.9,1296.5 429.2,1295.3 432.5,1295.3 435.7,1295.3 439.0,1295.3 442.3,1294.3 445.6,1263.7 448.8,1283.0 452.1,1296.5 455.4,1275.2 458.6,1275.6 461.9,1296.0
465.2,1289.9 468.5,1286.5 471.7,1290.8 475.0,1296.0 478.3,1298.6 481.6,1296.0 484.8,1282.1 488.1,1265.8 491.4,1275.2 494.6,1275.9 497.9,1278.6 501.2,1297.8
504.5,1278.6 507.7,1278.2 511.0,1266.7 514.3,1282.1 517.6,1298.6 520.8,1283.4 524.1,1283.0 527.4,1273.9 530.6,1280.4 533.9,1281.7 537.2,1297.8 540.5,1283.9
543.7,1296.9 547.0,1276.9 550.3,1268.2 553.5,1266.3 556.8,1295.0 560.1,1278.2 563.4,1269.2 566.6,1282.5 569.9,1296.7 573.2,1273.8 576.5,1256.5 579.7,1250.6
583.0,1286.0 586.3,1286.9 589.5,1296.7 592.8,1268.8 596.1,1286.9 599.4,1292.1 602.6,1258.4 605.9,1286.9 609.2,1291.2 612.5,1255.8 615.7,1264.3 619.0,1263.2
622.3,1278.2 625.5,1286.4 628.8,1285.6 632.1,1284.3 635.4,1283.4 638.6,1277.1 641.9,1293.2 645.2,1280.8 648.5,1278.6 651.7,1276.4 655.0,1273.8 658.3,1286.0
661.5,1279.1 664.8,1277.3 668.1,1275.6 671.4,1272.1 674.6,1270.8 677.9,1268.6 681.2,1256.0 684.5,1278.2 687.7,1260.8 691.0,1251.3 694.3,1259.9 697.5,1248.6
700.8,1233.0 704.1,1225.6 707.4,1234.7 710.6,1229.5 713.9,1221.7 717.2,1213.9 720.4,1208.7 727.0,1167.5 730.3,1170.7 733.5,1165.8 736.8,1154.0 740.1,1148.9
743.4,1137.2 746.6,1122.5 749.9,1115.3 753.2,1111.9 756.4,1091.7 759.7,1087.5 763.0,1088.3 766.3,1081.0 769.5,1081.6 772.8,1063.0 776.1,1064.7 779.4,1042.8
782.6,1034.0 785.9,1028.5 789.2,1028.2 792.4,1022.6 795.7,1002.4 799.0,1007.4 802.3,990.6 805.5,997.3 808.8,996.4 812.1,999.0 815.3,985.5 818.6,968.7
821.9,965.3 825.2,947.6 828.4,943.9 831.7,948.4 835.0,936.8 838.3,933.9 841.5,922.8 844.8,927.1 848.1,922.2 851.3,920.6 854.6,899.4 857.9,912.4
861.2,930.1 864.4,907.7 867.7,891.3 871.0,895.7 874.3,881.1 877.5,883.3 880.8,878.7 884.1,868.0 887.3,888.4 890.6,885.6 893.9,886.2 897.2,851.9
900.4,842.1 903.7,837.3 907.0,841.6 910.3,851.9 913.5,833.0 916.8,819.8 920.1,831.5 923.3,834.1 926.6,826.8 929.9,828.5 933.2,807.4 936.4,836.6
939.7,797.1 943.0,821.2 946.2,819.0 949.5,806.5 952.8,789.1 956.1,789.1 959.3,796.4 962.6,819.0 965.9,808.8 969.2,785.9 972.4,766.5 975.7,790.6
979.0,793.5 982.2,790.6 985.5,781.6 988.8,765.7 992.1,763.5 995.3,753.3 998.6,749.7 1001.9,756.2 1005.2,745.3 1008.4,760.0 1011.7,770.8 1015.0,756.2
1018.2,741.5 1021.5,723.0 1024.8,742.6 1028.1,749.2 1031.3,750.5 1034.6,702.8 1037.9,707.9 1041.2,720.1 1044.4,727.2 1047.7,729.5 1051.0,722.1 1054.2,708.5
1057.5,707.8 1060.8,717.8 1064.1,724.5 1067.3,694.4 1070.6,672.3 1073.9,714.3 1077.2,704.3 1080.4,687.5 1083.7,702.0 1087.0,697.1 1090.2,695.5 1093.5,666.2
1096.8,630.4 1100.1,655.4 1103.3,676.0 1106.6,670.2 1109.9,683.9 1113.1,684.2 1116.4,676.7 1119.7,668.5 1123.0,657.1 1126.2,656.4 1129.5,634.7 1132.8,673.8
1136.1,628.9 1139.3,639.0 1142.6,639.8 1145.9,673.8 1149.1,656.4 1152.4,665.0 1155.7,668.7 1159.0,638.3 1162.2,631.9 1165.5,631.1 1168.8,658.6 1172.1,623.1
1175.3,620.9 1178.6,636.2 1181.9,658.6 1185.1,629.6 1188.4,625.4 1191.7,628.2 1195.0,611.5 1198.2,638.3 1201.5,627.5 1204.8,611.5 1208.0,631.1 1211.3,638.6
1214.6,642.7 1217.9,610.8 1221.1,635.4 1224.4,597.8 1227.7,596.3 1231.0,613.0 1234.2,598.2 1237.5,578.2 1240.8,596.3 1244.0,600.9 1247.3,597.8 1250.6,627.5
1253.9,595.1 1257.1,555.1 1260.4,593.4 1263.7,598.3 1267.0,596.3 1270.2,607.9 1273.5,602.8 1276.8,591.0 1280.0,598.2 1283.3,596.8 1286.6,541.8 1289.9,578.0
1293.1,564.2 1296.4,568.6 1299.7,564.9 1303.0,575.5 1306.2,589.5 1309.5,598.9 1312.8,581.6 1316.0,570.7 1319.3,553.3 1322.6,547.5 1325.9,543.9 1329.1,574.3
1332.4,552.6 1335.7,576.5 1338.9,572.9 1342.2,536.7 1345.5,550.2 1348.8,556.2 1352.0,553.3 1355.3,527.3 1358.6,562.0 1361.9,544.7 1365.1,543.9 1368.4,526.6
1371.7,533.0 1374.9,543.9 1378.2,538.4 1381.5,536.7 1384.8,516.4 1388.0,551.9 1391.3,515.0 1394.6,530.9 1397.9,514.2 1401.1,533.1 1404.4,527.3 1407.7,514.9
1410.9,496.1 1414.2,524.4 1417.5,501.9 1420.8,521.9 1424.0,533.8 1427.3,507.0 1430.6,524.4 1433.9,488.9 1437.1,526.6 1440.4,504.1 1443.7,516.2 1446.9,533.8
1450.2,491.8 1453.5,494.0 1456.8,491.1 1460.0,519.3 1463.3,509.9 1466.6,496.8 1469.8,480.2 1473.1,478.8 1476.4,508.5 1479.7,465.7 1482.9,465.0 1486.2,438.2
1489.5,502.7 1492.8,520.8 1496.0,470.8 1499.3,491.1 1502.6,460.7 1505.8,503.4 1509.1,483.0 1512.4,459.2 1515.7,493.3 1518.9,443.3 1522.2,445.6 1525.5,452.2
1528.8,447.8 1532.0,476.8 1535.3,473.0 1538.6,477.5 1541.8,464.5 1545.1,471.0 1548.4,460.8 1551.7,506.5 1554.9,438.4 1558.2,458.7 1561.5,462.3 1564.8,423.2
1568.0,419.6 1571.3,465.2 1574.6,427.5 1577.8,477.5 1581.1,454.5 1584.4,427.5 1587.7,431.4 1590.9,429.0 1594.2,400.0 1597.5,427.5 1600.8,458.0 1604.0,417.4
1607.3,415.2 1610.6,418.9 1613.8,389.2 1617.1,405.0 1620.4,414.5 1623.7,419.7 1626.9,432.6 1630.2,379.0 1633.5,398.0 1636.7,413.1 1640.0,370.4 1643.3,403.8
1646.6,429.0 1649.8,440.6 1653.1,425.4 1656.4,358.8 1659.7,429.7 1662.9,401.7 1666.2,368.2 1669.5,379.2 1672.7,397.9 1676.0,398.6 1679.3,420.3 1682.6,422.5
1685.8,386.3 1689.1,405.4 1692.4,418.9 1695.7,434.8 1698.9,413.7 1702.2,389.2 1705.5,432.6 1708.7,400.5 1712.0,375.4 1715.3,389.9 1718.6,413.1 1721.8,356.6
1725.1,355.2 1728.4,387.6 1731.7,414.5 1734.9,345.7 1738.2,357.0 1741.5,374.0 1744.7,384.1 1748.0,351.8 1751.3,327.6 1754.6,388.5 1757.8,389.9 1761.1,415.2
1764.4,346.5 1767.6,363.8 1770.9,343.6 1774.2,346.2 1777.5,378.8 1780.7,368.0 1784.0,370.9 1787.3,370.1 1790.6,355.4 1793.8,347.7 1797.1,307.9 1800.4,376.6
1803.6,306.4 1806.9,344.8 1810.2,353.6 1813.5,354.2 1816.7,306.4 1820.0,301.4 1823.3,346.2 1826.6,330.3 1829.8,329.6 1833.1,320.9 1836.4,327.4 1839.6,388.9
1842.9,336.3 1846.2,290.5 1849.5,367.2 1852.7,315.8 1856.0,318.7 1859.3,364.3 1862.6,324.5 1865.8,341.9 1869.1,312.9 1872.4,320.9 1875.6,328.5 1878.9,330.3
1882.2,312.9 1885.5,317.3 1888.7,320.2 1892.0,305.7 1895.3,314.4 1898.5,333.2 1901.8,328.9 1905.1,298.5 1908.4,320.2 1911.6,364.3 1914.9,300.6 1918.2,322.4
1921.5,349.1 1924.7,282.5 1928.0,341.9 1931.3,326.7 1934.5,296.6 1937.8,272.4 1941.1,303.1 1944.4,327.4 1947.6,344.1 1950.9,310.0 1954.2,283.3 1957.5,297.0
1960.7,295.6 1964.0,328.9 1967.3,327.4 1970.5,268.8 1973.8,363.6 1977.1,323.1 1980.4,312.1 1983.6,294.1 1986.9,333.2 1990.2,274.6 1993.4,278.2 1996.7,315.6
2000.0,357.1 2003.3,310.7 2006.5,259.4 2009.8,281.1 2013.1,310.8 2016.4,243.4 2020.3,232.6"/>
</g>
<g id="ticklabels">
<text transform="translate(186.5 1537.0) scale(1 1.04)" text-anchor="end" class="tk">0</text>
<text transform="translate(186.5 1293.6) scale(1 1.04)" text-anchor="end" class="tk">2</text>
<text transform="translate(186.5 1050.1) scale(1 1.04)" text-anchor="end" class="tk">4</text>
<text transform="translate(186.5 806.7) scale(1 1.04)" text-anchor="end" class="tk">6</text>
<text transform="translate(186.5 563.2) scale(1 1.04)" text-anchor="end" class="tk">8</text>
<text transform="translate(186.5 319.8) scale(1 1.04)" text-anchor="end" class="tk">10</text>
<text transform="translate(186.5 76.4) scale(1 1.04)" text-anchor="end" class="tk">12</text>
<text transform="translate(383.8 1724.6) scale(1 1.04)" text-anchor="middle" class="tk">0</text>
<text transform="translate(711.1 1724.6) scale(1 1.04)" text-anchor="middle" class="tk">100</text>
<text transform="translate(1038.3 1724.6) scale(1 1.04)" text-anchor="middle" class="tk">200</text>
<text transform="translate(1365.5 1724.6) scale(1 1.04)" text-anchor="middle" class="tk">300</text>
<text transform="translate(1692.8 1724.6) scale(1 1.04)" text-anchor="middle" class="tk">400</text>
<text transform="translate(2020.0 1724.6) scale(1 1.04)" text-anchor="middle" class="tk">500</text>
<text transform="translate(1201.0 1853.0) scale(1 1.015)" text-anchor="middle" class="lb">Epoch</text>
<text transform="translate(84.0 848.6) rotate(-90) scale(1 1.015)" text-anchor="middle" class="lb">Loss</text>
</g>
<g id="legend">
<rect x="1008.0" y="86.0" width="1148.2" height="117.0" fill="#ffffff"/>
<rect x="1008.0" y="86.0" width="1148.2" height="2.6" fill="#9a9a9a"/>
<rect x="1008.0" y="88.6" width="1148.2" height="2.4" fill="#b8b8b8"/>
<rect x="1008.0" y="88.0" width="2.9" height="115.0" fill="#6e6e6e"/>
<rect x="2153.8" y="88.0" width="2.4" height="115.0" fill="#3c3c3c"/>
<rect x="1008.0" y="201.0" width="1148.2" height="2.0" fill="#3c3c3c"/>
<rect x="1018.4" y="142.0" width="188.9" height="1.3" fill="#f4625f"/>
<rect x="1018.4" y="143.3" width="188.9" height="4.1" fill="#ec0a0c"/>
<rect x="1018.4" y="147.4" width="188.9" height="2.5" fill="#f58684"/>
<rect x="1207.3" y="143.3" width="1.3" height="4.1" fill="#f9bcbb"/>
<rect x="1577.3" y="142.0" width="187.1" height="2.8" fill="#5a85b5"/>
<rect x="1577.3" y="144.8" width="187.1" height="2.6" fill="#2e609f"/>
<rect x="1577.3" y="147.4" width="187.1" height="2.5" fill="#9ab5d5"/>
<rect x="1764.4" y="142.0" width="2.4" height="5.4" fill="#a9c0da"/>
<text transform="translate(1226.0 174.2) scale(1 1.03)" class="lb">Train Loss</text>
<text transform="translate(1786.0 174.2) scale(1 1.03)" class="lb">Valid Loss</text>
</g>
</svg>
</body>
</html>
